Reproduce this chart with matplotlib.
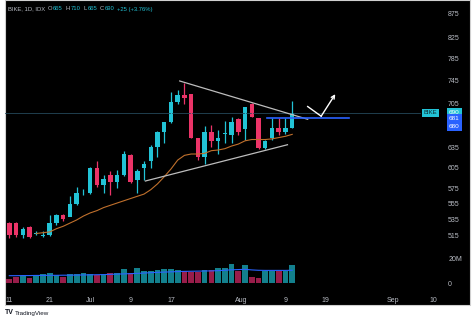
import matplotlib
matplotlib.use('Agg')
import matplotlib.pyplot as plt
from matplotlib.patches import Rectangle
from matplotlib.ticker import NullLocator, NullFormatter
import numpy as np

# daily candles, BIKE (IDX)
opens = [530, 530, 515, 525, 517, 514, 515, 530, 540, 538, 555, 569, 570, 605, 580,
         595, 585, 595, 624, 588, 604, 615, 635, 658, 674, 708, 720, 722, 649, 620,
         659, 644, 655, 654, 679, 664, 705, 681, 634, 649, 665, 658, 665]
highs = [531, 531, 525, 526, 520, 520, 540, 541, 541, 565, 577, 575, 606, 615, 595,
         600, 601, 629, 625, 603, 615, 639, 661, 675, 724, 728, 740, 722, 650, 669,
         670, 662, 676, 682, 681, 700, 706, 681, 647, 681, 681, 681, 710]
lows = [512, 513, 512, 511, 515, 513, 514, 528, 533, 539, 553, 567, 568, 578, 570,
        567, 576, 593, 583, 570, 588, 605, 621, 641, 673, 705, 705, 649, 616, 611,
        636, 625, 641, 641, 654, 647, 682, 633, 632, 646, 654, 656, 665]
closes = [515, 515, 522, 513, 518, 515, 530, 540, 535, 555, 570, 570, 605, 580, 589,
          584, 595, 625, 584, 600, 610, 635, 659, 674, 708, 720, 714, 650, 620, 659,
          644, 650, 657, 675, 659, 699, 683, 634, 645, 665, 659, 665, 690]
volumes = [3.6, 5.0, 5.5, 4.2, 6.1, 7.8, 8.3, 6.4, 4.7, 7.2, 7.2, 8.0, 7.5, 6.7, 7.2,
           8.3, 8.3, 11.7, 8.3, 12.5, 10.3, 10.3, 11.1, 11.4, 11.4, 11.1, 10.3, 9.4, 9.4, 10.8,
           11.1, 12.8, 12.8, 15.6, 9.7, 14.7, 5.0, 3.9, 9.7, 9.7, 9.7, 9.7, 14.7]
vol_ma = [6.1, 6.1, 6.2, 6.2, 6.3, 6.3, 6.4, 6.4, 6.5, 6.5, 6.6, 6.7, 6.8, 6.9, 7.0,
          7.2, 7.4, 7.6, 7.8, 8.0, 8.3, 8.6, 8.9, 9.1, 9.3, 9.5, 9.7, 9.8, 9.9, 10.0,
          10.1, 10.3, 10.6, 11.0, 11.2, 11.4, 10.9, 10.6, 10.5, 10.5, 10.5, 10.5, 10.6]
# orange moving average, from day 4 on
ma_start = 4
ma_vals = [517, 518, 519, 523, 526, 530, 534, 539, 543, 546, 550, 553, 556, 559, 562,
           565, 568, 574, 582, 592, 603, 616, 623, 625, 625, 626, 630, 631, 633, 637,
           640, 645, 647, 647, 647, 648, 650, 652, 655]

# drawings
upper_line = ([25.3, 44.3], [744, 679])
lower_line = ([20.2, 41.3], [586, 639])
arrow_x = [44.3, 46.3, 48.4]
arrow_y = [700, 684, 721]
hline_x = [38.2, 50.4]
hline_y = 681

xtick_pos = [0, 6, 12, 18, 24, 34.5, 41, 47, 57, 63]
xtick_lab = ['11', '21', 'Jul', '9', '17', 'Aug', '9', '19', 'Sep', '10']
price_ticks = [515, 535, 555, 575, 605, 635, 705, 745, 785, 825, 875]

UP = '#22c3d6'
DOWN = '#ec3468'
VUP = '#13808d'
VDOWN = '#981d4a'
GRID_TXT = '#b8bcc4'
FONT = ['Liberation Sans', 'DejaVu Sans']

W, H = 474, 323
fig = plt.figure(figsize=(W / 100, H / 100), dpi=100)
fig.patch.set_facecolor('white')
fig.add_artist(Rectangle((5 / W, 1 - 305 / H), 465 / W, 305 / H, transform=fig.transFigure,
                         facecolor='black', edgecolor='#d0d0d0', lw=0.8, zorder=0))

rect = [5 / W, 1 - 290 / H, 432 / W, 290 / H]
vax = fig.add_axes(rect, zorder=1)
ax = fig.add_axes(rect, zorder=2, sharex=vax)
for a in (ax, vax):
    a.set_facecolor('none')
    for s in a.spines.values():
        s.set_visible(False)

x = np.arange(len(closes))
opens = np.array(opens)
closes = np.array(closes)
up = closes >= opens

# volume pane
vax.bar(x, volumes, width=0.85, color=[VUP if u else VDOWN for u in up])
vax.plot(x, vol_ma, color='#2962ff', lw=0.8)
vax.set_ylim(-5.83, 235.8)
vax.yaxis.tick_right()
vax.set_yticks([0, 20])
vax.set_yticklabels(['0', '20M'])
vax.tick_params(axis='y', length=0, pad=8, labelsize=5, labelcolor=GRID_TXT)
vax.tick_params(axis='x', length=0, labelbottom=False)
for t in vax.get_yticklabels():
    t.set_fontfamily(FONT)

# price pane
ax.set_yscale('log')
ax.set_ylim(451.8, 902.6)
ax.set_xlim(-0.64, 63.5)
ax.axhline(closes[-1], color='#24485a', lw=0.6, xmin=0, xmax=(420 - 5) / 432)

colors = [UP if u else DOWN for u in up]
ax.vlines(x, lows, highs, colors=colors, lw=0.9)
ax.bar(x, closes - opens, bottom=opens, width=0.66, color=colors)

ax.plot(x[ma_start:], ma_vals, color='#c0702c', lw=0.8)

ax.plot(*upper_line, color='#bdbdbd', lw=0.9)
ax.plot(*lower_line, color='#bdbdbd', lw=0.9)
ax.plot(hline_x, [hline_y, hline_y], color='#2962ff', lw=1.2)
ax.plot(arrow_x[:2], arrow_y[:2], color='white', lw=1.0)
ax.annotate('', xy=(arrow_x[2], arrow_y[2]), xytext=(arrow_x[1], arrow_y[1]),
            arrowprops=dict(arrowstyle='->', color='white', lw=1.0, shrinkA=0, shrinkB=0,
                            mutation_scale=6))

ax.yaxis.tick_right()
ax.yaxis.set_minor_locator(NullLocator())
ax.yaxis.set_minor_formatter(NullFormatter())
ax.set_yticks(price_ticks)
ax.set_yticklabels([str(p) for p in price_ticks])
ax.tick_params(axis='y', length=0, pad=8, labelsize=5, labelcolor=GRID_TXT)
ax.set_xticks(xtick_pos)
ax.set_xticklabels(xtick_lab)
ax.tick_params(axis='x', length=0, pad=5, labelsize=5, labelcolor=GRID_TXT)
for t in ax.get_yticklabels() + ax.get_xticklabels():
    t.set_fontfamily(FONT)

# price scale markers
ytr = ax.get_yaxis_transform()
ax.text(0.9845, closes[-1], 'BIKE', transform=ytr, ha='center', va='center', fontsize=4.3,
        family=FONT, color='#0b2a30', clip_on=False,
        bbox=dict(boxstyle='square,pad=0.25', fc=UP, ec='none'))
ax.text(1.040, closes[-1], str(closes[-1]), transform=ytr, ha='center', va='center',
        fontsize=4.6, family=FONT, color='white', clip_on=False,
        bbox=dict(boxstyle='square,pad=0.3', fc=UP, ec='none'))
ax.annotate(str(hline_y), xy=(1.040, hline_y), xycoords=ytr, ha='center', va='center',
            fontsize=4.6, family=FONT, color='white', annotation_clip=False,
            bbox=dict(boxstyle='square,pad=0.3', fc='#2962ff', ec='none'))
ax.annotate('680', xy=(1.040, hline_y), xycoords=ytr, xytext=(0, -6),
            textcoords='offset points', ha='center', va='center', fontsize=4.6,
            family=FONT, color='white', annotation_clip=False,
            bbox=dict(boxstyle='square,pad=0.3', fc='#2962ff', ec='none'))

# legend line at top left, laid out piece by piece
renderer = fig.canvas.get_renderer()
parts = [('BIKE, 1D, IDX', GRID_TXT, 3), ('O', GRID_TXT, 0.5), ('665', UP, 3),
         ('H', GRID_TXT, 0.5), ('710', UP, 3), ('L', GRID_TXT, 0.5), ('665', UP, 3),
         ('C', GRID_TXT, 0.5), ('690', UP, 3), ('+25 (+3.76%)', UP, 0)]
px = 8
for txt, col, gap in parts:
    t = fig.text(px / W, 1 - 9 / H, txt, color=col, fontsize=4.2, family=FONT, va='center')
    px += t.get_window_extent(renderer).width + gap

# footer
fig.text(5 / W, 1 - 313 / H, 'TV', fontsize=5, weight='bold', color='#131722',
         family=FONT, va='center')
fig.text(15 / W, 1 - 313 / H, 'TradingView', fontsize=4.5, color='#131722',
         family=FONT, va='center')

fig.savefig('out.png', dpi=100, facecolor=fig.get_facecolor())
